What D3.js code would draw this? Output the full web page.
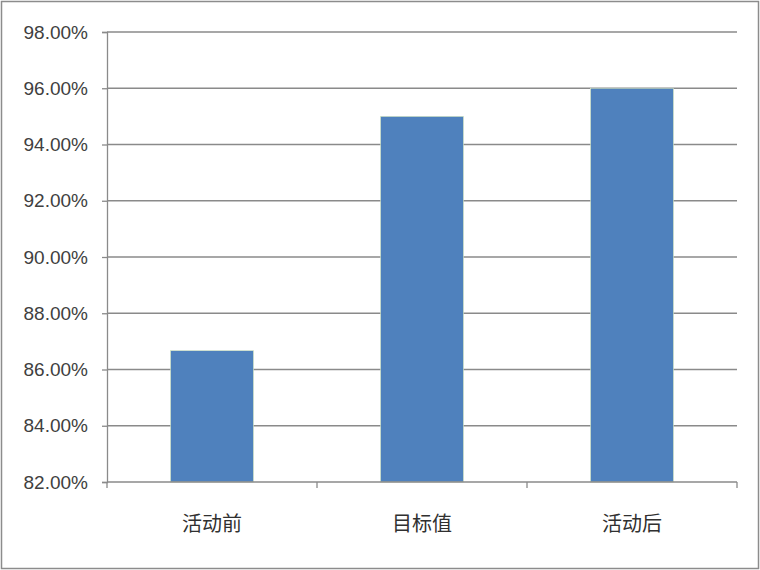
<!DOCTYPE html>
<html>
<head>
<meta charset="utf-8">
<script src="https://cdn.jsdelivr.net/npm/d3@7"></script>
<style>
  body { margin: 0; background: #fff; }
</style>
</head>
<body>
<div id="wrapper"></div>
<script>
// chart values
var categories = ["活动前", "目标值", "活动后"];
var values = [0.8667, 0.95, 0.96];
var yTicks = [0.82, 0.84, 0.86, 0.88, 0.90, 0.92, 0.94, 0.96, 0.98];

var width = 760, height = 570;
var margin = { top: 32, right: 23, bottom: 88, left: 107 };

const svg = d3.select('#wrapper').append('svg')
  .attr('width', width)
  .attr('height', height)
  .style('display', 'block')
  .style('font-family', '"Noto Sans CJK SC", "Liberation Sans", sans-serif');

// outer frame
svg.append('rect')
  .attr('x', 1.5).attr('y', 1.5)
  .attr('width', width - 3).attr('height', height - 3)
  .attr('fill', '#fff')
  .attr('stroke', '#8c8c8c')
  .attr('stroke-width', 1.5);

var x = d3.scaleBand()
  .domain(categories)
  .range([margin.left, width - margin.right])
  .paddingInner(0.605)
  .paddingOuter(0.3025);

var y = d3.scaleLinear()
  .domain([0.82, 0.98])
  .range([height - margin.bottom, margin.top]);

// gridlines
svg.append('g')
  .selectAll('line')
  .data(yTicks.slice(1))
  .join('line')
  .attr('x1', margin.left)
  .attr('x2', width - margin.right)
  .attr('y1', d => y(d))
  .attr('y2', d => y(d))
  .attr('stroke', '#8a8a8a')
  .attr('stroke-width', 1.3);

// bars
svg.append('g')
  .selectAll('rect')
  .data(values)
  .join('rect')
  .attr('x', (d, i) => x(categories[i]))
  .attr('width', x.bandwidth())
  .attr('y', d => y(d))
  .attr('height', d => y(0.82) - y(d))
  .attr('fill', '#4f81bd')
  .attr('stroke', '#d8e8c0')
  .attr('stroke-width', 0.6);

// y axis
const yAxis = svg.append('g')
  .attr('transform', `translate(${margin.left},0)`)
  .call(d3.axisLeft(y).tickValues(yTicks).tickFormat(d3.format('.2%')).tickSizeOuter(0).tickSize(5).tickPadding(14));
yAxis.select('.domain').attr('stroke', '#8a8a8a').attr('stroke-width', 1.3);
yAxis.selectAll('.tick line').attr('stroke', '#8a8a8a').attr('stroke-width', 1.3);
yAxis.selectAll('text')
  .attr('fill', '#404040')
  .style('font-size', '19px')
  .style('font-family', '"Liberation Sans", "Noto Sans", sans-serif');

// x axis, ticks on category boundaries
var plotW = width - margin.right - margin.left;
var xb = svg.append('g')
  .attr('transform', `translate(0,${height - margin.bottom})`);
xb.append('line')
  .attr('x1', margin.left).attr('x2', width - margin.right)
  .attr('stroke', '#8a8a8a').attr('stroke-width', 1.3);
xb.selectAll('.bt')
  .data(d3.range(categories.length + 1))
  .join('line')
  .attr('class', 'bt')
  .attr('x1', i => margin.left + i * plotW / categories.length)
  .attr('x2', i => margin.left + i * plotW / categories.length)
  .attr('y1', 0).attr('y2', 6)
  .attr('stroke', '#8a8a8a').attr('stroke-width', 1.3);
xb.selectAll('text')
  .data(categories)
  .join('text')
  .attr('x', d => x(d) + x.bandwidth() / 2)
  .attr('y', 49)
  .attr('text-anchor', 'middle')
  .attr('fill', '#303030')
  .style('font-size', '20px')
  .text(d => d);
</script>
</body>
</html>
